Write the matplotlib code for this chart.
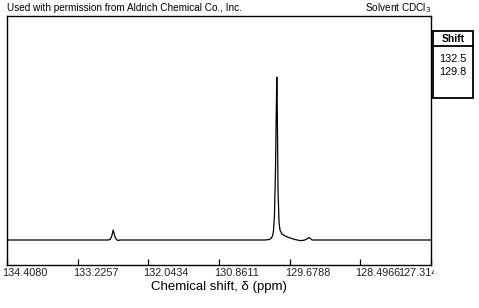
import matplotlib
matplotlib.use("Agg")
import matplotlib.pyplot as plt
import matplotlib.transforms as mtransforms
from matplotlib.patches import Rectangle
from matplotlib.lines import Line2D

plt.rcParams['font.family'] = ['Liberation Sans', 'DejaVu Sans']

# Spectrum trace (ppm, relative intensity)
ppm = [134.408, 132.718, 132.685, 132.660, 132.643, 132.631, 132.618, 132.601,
       132.576, 132.551, 132.518, 130.092, 130.025, 129.991, 129.966, 129.950,
       129.933, 129.916, 129.903, 129.894, 129.886, 129.874, 129.857, 129.841,
       129.807, 129.757, 129.673, 129.590, 129.506, 129.439, 129.389, 129.356,
       129.330, 129.305, 127.3143]
intensity = [0, 0, 0.5, 3, 7, 10, 7, 3, 0.5, -0.5, 0, 0, 0.5, 1.5, 4, 9, 25, 70,
             130, 163, 130, 50, 18, 10, 6, 4, 2, 0.5, -0.6, -0.3, 1, 2.5, 1.5, 0, 0]

tick_values = [134.4080, 133.2257, 132.0434, 130.8611, 129.6788, 128.4966, 127.3143]
tick_labels = ["134.4080", "133.2257", "132.0434", "130.8611", "129.6788", "128.4966", "127.3143"]
shift_values = ["132.5", "129.8"]

W, H = 479, 308
fig = plt.figure(figsize=(W / 100, H / 100), dpi=100)
ax = fig.add_axes([7 / W, (H - 265) / H, 424 / W, (265 - 16) / H])

ax.plot(ppm, intensity, color='black', lw=0.9)
ax.set_xlim(134.408, 127.3143)
ax.set_ylim(-25, 224)
ax.set_yticks([])
ax.set_xticks(tick_values)
ax.set_xticklabels([])
ax.tick_params(axis='x', direction='in', length=4, width=0.9)
for s in ax.spines.values():
    s.set_linewidth(1.0)

base = ax.get_xaxis_transform()
for i, (v, t) in enumerate(zip(tick_values, tick_labels)):
    shift = -32.5 if i == len(tick_values) - 1 else -5
    off = mtransforms.ScaledTranslation(shift / 100, -2.5 / 100, fig.dpi_scale_trans)
    txt = ax.text(v, 0, t, transform=base + off, fontsize=7.8, ha='left', va='top',
                  color='#222222', clip_on=False)
    if i == len(tick_values) - 1:
        txt.set_clip_on(True)
        txt.set_clip_box(mtransforms.Bbox.from_extents(0, 0, 434, H))

fig.text(219 / W, 1 - 287 / H, "Chemical shift, δ (ppm)", fontsize=9.5,
         ha='center', va='center')

fig.text(7 / W, 1 - 8 / H, "Used with permission from Aldrich Chemical Co., Inc.",
         fontsize=7.2, ha='left', va='center')
fig.text(431 / W, 1 - 8 / H, "Solvent CDCl$_3$", fontsize=7.2, ha='right', va='center')

# Shift table box
x0, x1, y0, y1, yh = 433, 473, 31, 98, 46
fig.patches.append(Rectangle((x0 / W, 1 - y1 / H), (x1 - x0) / W, (y1 - y0) / H,
                             transform=fig.transFigure, fill=False, lw=1.3, ec='black'))
fig.lines.append(Line2D([x0 / W, x1 / W], [1 - yh / H, 1 - yh / H],
                        transform=fig.transFigure, color='black', lw=1.3))
fig.text((x0 + x1) / 2 / W, 1 - 38.5 / H, "Shift", fontsize=7.5, fontweight='bold',
         ha='center', va='center')
for i, v in enumerate(shift_values):
    fig.text((x0 + x1) / 2 / W, 1 - (59 + 13 * i) / H, v, fontsize=7.8,
             ha='center', va='center')

fig.savefig("out.png", dpi=100)
